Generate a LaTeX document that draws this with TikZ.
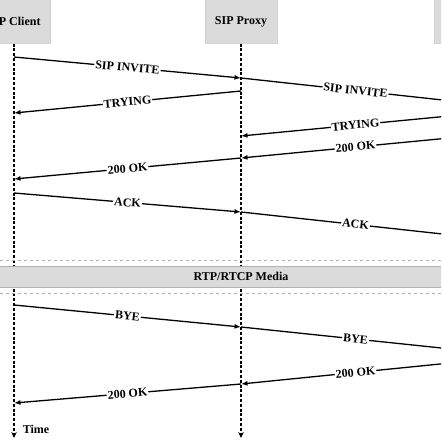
\documentclass[tikz,border=0pt]{standalone}
\usepackage{fontspec}
\setmainfont{Liberation Serif}
\usetikzlibrary{arrows.meta,positioning}

\begin{document}
\begin{tikzpicture}[x=1pt, y=-1pt,
  actor/.style={fill=gray!28, draw=gray!35, minimum width=72pt,
                minimum height=44pt, font=\fontsize{12}{14}\selectfont\bfseries},
  life/.style={line width=1.9pt, dash pattern=on 3pt off 1.8pt,
               -{Stealth[length=6pt,width=5.5pt]}},
  msg/.style={line width=1.3pt, -{Latex[length=6.5pt,width=5pt]}},
  lbl/.style={fill=white, inner sep=1pt, sloped, midway,
              font=\fontsize{12}{14}\selectfont\bfseries}]

  \useasboundingbox (0,0) rectangle (441,441);
  \clip (0,0) rectangle (441,441);

  \node[actor] (cli) at (14,21.5)  {SIP Client};
  \node[actor] (prx) at (241,21.5) {SIP Proxy};
  \node[actor] (srv) at (470,21.5) {};

  % lifelines
  \draw[life] (cli.south) -- (cli |- 0,438);
  \draw[life] (prx.south) -- (prx |- 0,438);
  \draw[life] (srv.south) -- (srv |- 0,438);
  \node[font=\fontsize{12}{14}\selectfont\bfseries] (time) at (36,429) {Time};

  % session setup
  \draw[msg] (cli |- 0,57)  -- node[lbl] {SIP INVITE} (prx |- 0,78);
  \draw[msg] (prx |- 0,78)  -- node[lbl] {SIP INVITE} (srv |- 0,103);
  \draw[msg] (prx |- 0,91)  -- node[lbl] {TRYING} (cli |- 0,113);
  \draw[msg] (srv |- 0,114) -- node[lbl] {TRYING} (prx |- 0,136);
  \draw[msg] (srv |- 0,136) -- node[lbl] {200 OK} (prx |- 0,158);
  \draw[msg] (prx |- 0,158) -- node[lbl] {200 OK} (cli |- 0,179);
  \draw[msg] (cli |- 0,193) -- node[lbl] {ACK} (prx |- 0,212);
  \draw[msg] (prx |- 0,212) -- node[lbl] {ACK} (srv |- 0,237);

  % media
  \draw[gray!60, dashed, thin] (0,260) -- (441,260);
  \draw[gray!60, dashed, thin] (0,293) -- (441,293);
  \node[fill=gray!28, draw=gray!60, minimum width=450pt, minimum height=21pt,
        font=\fontsize{12}{14}\selectfont\bfseries] (media) at (220.5,276.5) {};
  \node[font=\fontsize{12}{14}\selectfont\bfseries] (mtxt) at (241,276.5) {RTP/RTCP Media};

  % teardown
  \draw[msg] (cli |- 0,305) -- node[lbl] {BYE} (prx |- 0,327);
  \draw[msg] (prx |- 0,327) -- node[lbl] {BYE} (srv |- 0,351);
  \draw[msg] (srv |- 0,361) -- node[lbl] {200 OK} (prx |- 0,384);
  \draw[msg] (prx |- 0,384) -- node[lbl] {200 OK} (cli |- 0,403);
\end{tikzpicture}
\end{document}
